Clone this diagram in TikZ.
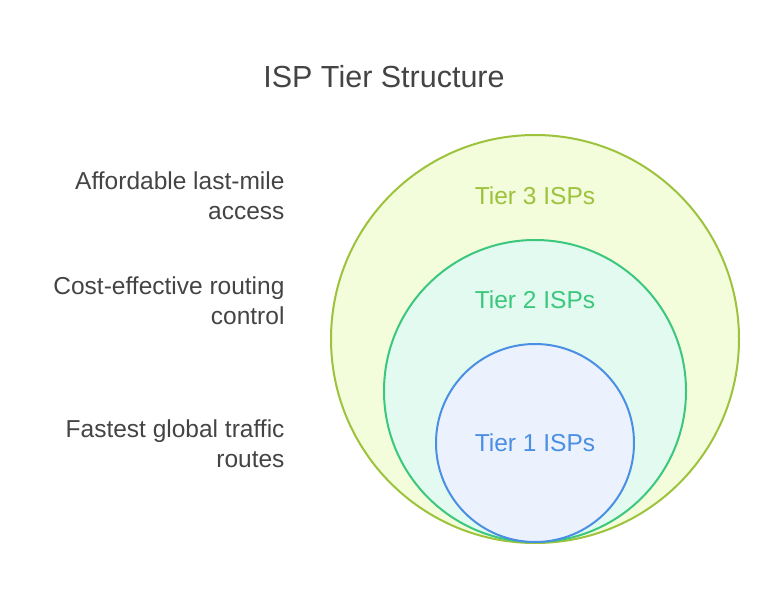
\documentclass[tikz,border=0pt]{standalone}
\usepackage{fontspec}
\setmainfont{Liberation Sans}
\definecolor{c3}{HTML}{9DC23C}
\definecolor{f3}{HTML}{F3FCDB}
\definecolor{c2}{HTML}{3CC77E}
\definecolor{f2}{HTML}{E2FAEF}
\definecolor{c1}{HTML}{4A8FE3}
\definecolor{f1}{HTML}{EBF2FE}
\definecolor{tx}{HTML}{444444}
\begin{document}
\begin{tikzpicture}[x=1pt,y=-1pt,
  ring/.style={line width=2pt},
  lbl/.style={align=right,anchor=east,text=tx,font=\fontsize{24.5}{30}\selectfont},
  tier/.style={font=\fontsize{24.5}{30}\selectfont}]
\useasboundingbox (0,0) rectangle (768,604);
\node[text=tx,font=\fontsize{30.5}{36}\selectfont] (title) at (384,77) {ISP Tier Structure};
\draw[ring,draw=c3,fill=f3] (535,339) circle (204);
\draw[ring,draw=c2,fill=f2] (535,391) circle (151);
\draw[ring,draw=c1,fill=f1] (535,443) circle (99);
\node[tier,text=c3] (t3) at (535,196) {Tier 3 ISPs};
\node[tier,text=c2] (t2) at (535,300) {Tier 2 ISPs};
\node[tier,text=c1] (t1) at (535,443) {Tier 1 ISPs};
\node[lbl] (l3) at (288,196) {Affordable last-mile\\access};
\node[lbl] (l2) at (288,301) {Cost-effective routing\\control};
\node[lbl] (l1) at (288,444) {Fastest global traffic\\routes};
\end{tikzpicture}
\end{document}
